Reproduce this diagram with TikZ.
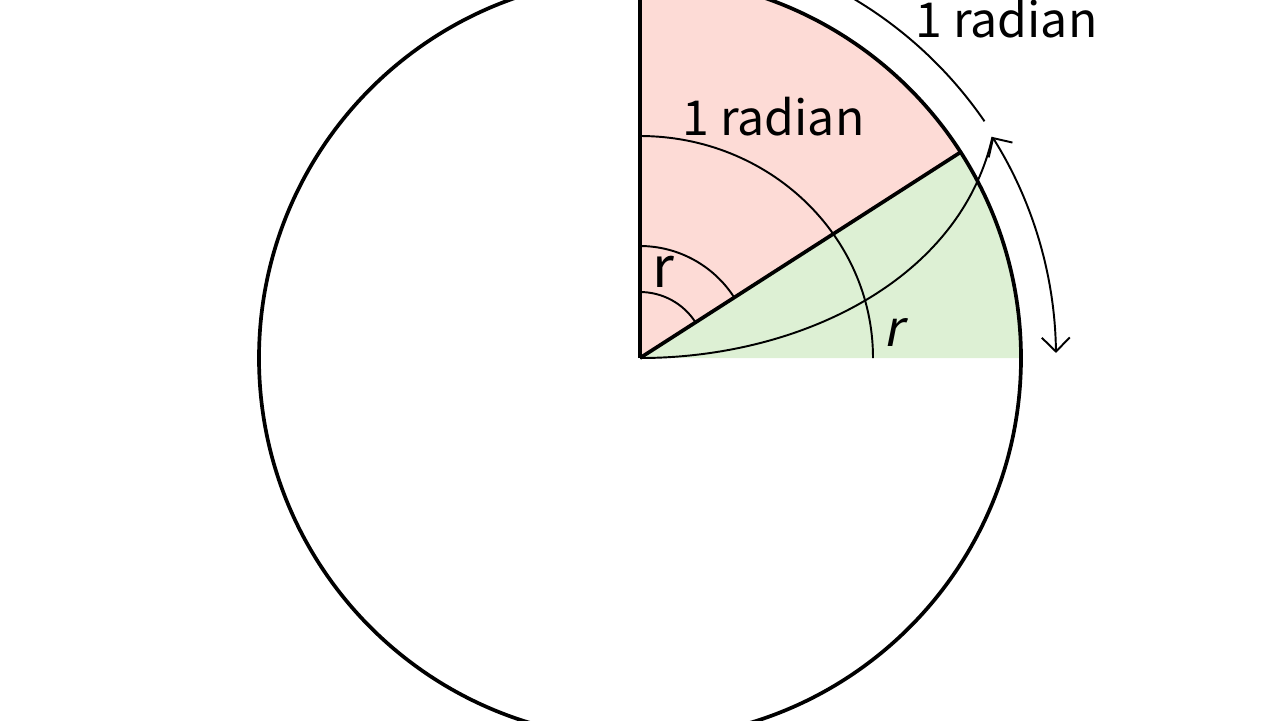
\documentclass[tikz,border=0pt]{standalone}
\usepackage{fontspec}
\setmainfont{Noto Sans CJK SC}
\newfontfamily\slantfont{Noto Sans CJK SC}[FakeSlant=0.2]
\usetikzlibrary{arrows.meta}
\definecolor{sectorpink}{RGB}{253,219,214}
\definecolor{sectorgreen}{RGB}{221,240,212}

\begin{document}
\begin{tikzpicture}[x=0.01cm, y=0.01cm,
        bold/.style={line width=1.05pt},
        guide/.style={line width=0.55pt},
        lbl/.style={anchor=base west, inner sep=0},
        barb/.style={{Straight Barb[length=1.4mm,width=2.8mm]}-{Straight Barb[length=1.4mm,width=2.8mm]}}]
        \useasboundingbox (-640,-362) rectangle (640,358);
        \clip (-640,-362) rectangle (640,358);
        \coordinate (O) at (0,0);

        \fill[sectorpink] (O) -- (90:381) arc[start angle=90, end angle=32.7, radius=381] -- cycle;
        \fill[sectorgreen] (O) -- (0:381) arc[start angle=0, end angle=32.7, radius=381] -- cycle;
        \draw[bold] (O) circle[radius=381];
        \draw[bold] (O) -- (90:381);
        \draw[bold] (O) -- (32.7:381);

        % arcs round the centre
        \draw[guide] (90:222) arc[start angle=90, end angle=0, x radius=233, y radius=222];
        \draw[guide] (90:112) arc[start angle=90, end angle=32.7, radius=112];
        \draw[guide] (90:66) arc[start angle=90, end angle=32.7, radius=66];

        % radius laid on the circle
        \coordinate (tip) at (32.1:416);
        \draw[guide] (O) .. controls (160,0) and (320,78) .. (tip);
        \draw[guide, barb] (tip) arc[start angle=32.1, end angle=0.7, radius=416];
        \draw[guide] (34.5:418) arc[start angle=34.5, end angle=75, radius=418];

        \node[lbl, font=\fontsize{13.7}{16}\selectfont] (inner) at (42,223) {1 radian};
        \node[lbl, font=\fontsize{13.7}{16}\selectfont] (outer) at (275,321) {1 radian};
        \node[lbl, font=\fontsize{16}{19}\selectfont] (rup) at (12,71) {r};
        \node[lbl, font=\slantfont\fontsize{14.3}{17}\selectfont] (rit) at (243,12) {r};
    \end{tikzpicture}
\end{document}
